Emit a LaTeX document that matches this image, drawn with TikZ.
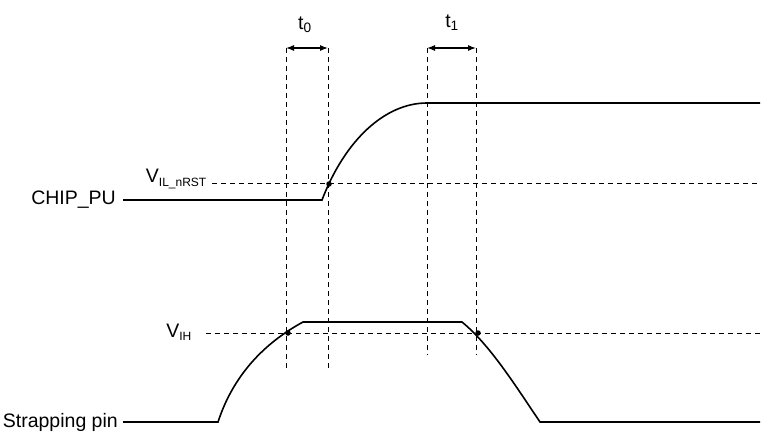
\documentclass[tikz,border=0pt]{standalone}
\usepackage{fontspec}
\setmainfont{Liberation Sans}
\usetikzlibrary{arrows.meta}
\begin{document}
\begin{tikzpicture}[x=1pt,y=-1pt,
  sig/.style={line width=1.6pt},
  guide/.style={line width=0.9pt,dash pattern=on 5pt off 4pt},
  meas/.style={line width=1.1pt,{Latex[length=8pt]}-{Latex[length=8pt]}},
  dot/.style={circle,fill=black,inner sep=0pt,minimum size=5.5pt},
  lbl/.style={font=\fontsize{19.5}{22}\selectfont,inner sep=0pt}]
\useasboundingbox (0,0) rectangle (768,441);
% labels
\node[lbl,anchor=east] (chip) at (116,200) {CHIP\_PU};
\node[lbl,anchor=east] (strap) at (118,422) {Strapping pin};
\node[lbl,anchor=east] (vil) at (207,179) {V\textsubscript{\fontsize{12}{12}\selectfont IL\_nRST}};
\node[lbl,anchor=east] (vih) at (192,332) {V\textsubscript{\fontsize{12}{12}\selectfont IH}};
\node[lbl] (t0) at (305,25) {t\textsubscript{0}};
\node[lbl] (t1) at (452,23) {t\textsubscript{1}};
% coordinates
\coordinate (a0) at (286,48); \coordinate (a1) at (328,48);
\coordinate (b0) at (427,48); \coordinate (b1) at (476,48);
\coordinate (a0e) at (286,370); \coordinate (a1e) at (328,370);
\coordinate (b0e) at (427,355); \coordinate (b1e) at (476,355);
\coordinate (vile) at (760,183); \coordinate (vils) at (212,183);
\coordinate (vihe) at (760,333); \coordinate (vihs) at (206,333);
% guides
\draw[guide] (a0) -- (a0e); \draw[guide] (a1) -- (a1e);
\draw[guide] (b0) -- (b0e); \draw[guide] (b1) -- (b1e);
\draw[guide] (vils) -- (vile);
\draw[guide] (vihs) -- (vihe);
\draw[meas] (a0) -- (a1);
\draw[meas] (b0) -- (b1);
% CHIP_PU signal
\draw[sig] (123,200) -- (322,200) .. controls (345,140) and (385,103) .. (427,103) -- (760,103);
% Strapping signal
\draw[sig] (123,422) -- (218,422) .. controls (235,370) and (270,340) .. (303,322) -- (462,322)
  .. controls (490,345) and (515,385) .. (540,422) -- (760,422);
% dots
\node[dot] (d1) at (329,184) {};
\node[dot] (d2) at (288,333) {};
\node[dot] (d3) at (478,333) {};
\end{tikzpicture}
\end{document}
